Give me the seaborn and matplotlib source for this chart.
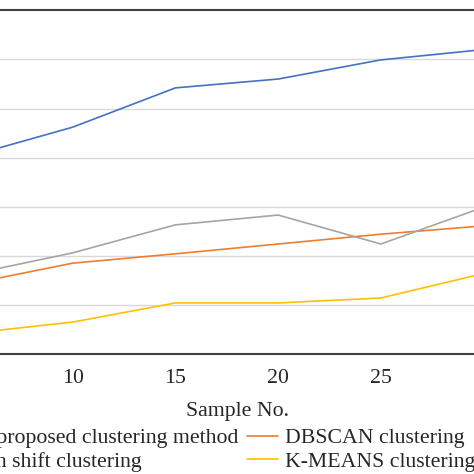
import numpy as np
import pandas as pd
import matplotlib
matplotlib.use("Agg")
import matplotlib.pyplot as plt
import seaborn as sns
from matplotlib.ticker import FixedLocator

samples = [5, 10, 15, 20, 25, 30]
proposed = [40.3, 46.2, 54.2, 56.0, 59.9, 62.0]
dbscan = [14.3, 18.5, 20.4, 22.4, 24.4, 26.1]
meanshift = [16.2, 20.6, 26.3, 28.3, 22.4, 29.9]
kmeans = [4.2, 6.5, 10.4, 10.4, 11.4, 16.4]

names = ["The proposed clustering method", "DBSCAN clustering",
         "Mean shift clustering", "K-MEANS clustering"]
series = [proposed, dbscan, meanshift, kmeans]
colors = ["#4472C4", "#ED7D31", "#A5A5A5", "#FFC000"]

rows = []
for n, vals in zip(names, series):
    for i, (s, v) in enumerate(zip(samples, vals)):
        rows.append({"idx": i, "sample": s, "value": v, "series": n})
df = pd.DataFrame(rows)

sns.set_style("white")
plt.rcParams['font.family'] = ['Liberation Serif', 'DejaVu Serif']
FS = 15.7

fig = plt.figure(figsize=(4.74, 4.74), dpi=100)
ax = fig.add_axes([0, 0.2532, 1, 0.7468])
sns.lineplot(data=df, x="idx", y="value", hue="series", hue_order=names,
             palette=colors, linewidth=1.2, ax=ax, legend=False)

ax.set_yticks([])
for y in range(10, 70, 10):
    ax.axhline(y, color="#D9D9D9", lw=1.0, zorder=0)
ax.axhline(70, color="#404040", lw=1.5, zorder=0)

ax.set_xticks(range(len(samples)))
ax.set_xticklabels([str(s) for s in samples], fontsize=FS)
ax.xaxis.set_minor_locator(FixedLocator([i + 0.5 for i in range(-1, len(samples))]))
ax.tick_params(axis="x", which="major", length=0, pad=11)
ax.tick_params(axis="x", which="minor", length=6, width=1.2, direction="in", color="#404040")
ax.set_xlim(0.292, 4.907)
ax.set_ylim(0, 72.1)
ax.set_xlabel("Sample No.", fontsize=FS, labelpad=10)
ax.set_ylabel("")
for sp in ["top", "left", "right"]:
    ax.spines[sp].set_visible(False)
ax.spines["bottom"].set_color("#404040")
ax.spines["bottom"].set_linewidth(1.5)

handles = [plt.Line2D([], [], color=c, lw=1.2) for c in colors]
order = [0, 2, 1, 3]
fig.legend([handles[i] for i in order], [names[i] for i in order],
           ncol=2, loc="upper left", bbox_to_anchor=(-0.194, 0.12),
           frameon=False, fontsize=FS, handlelength=1.42, handletextpad=0.32,
           columnspacing=0.41, labelspacing=0.14, borderpad=0)

fig.savefig("out.png", dpi=100)
